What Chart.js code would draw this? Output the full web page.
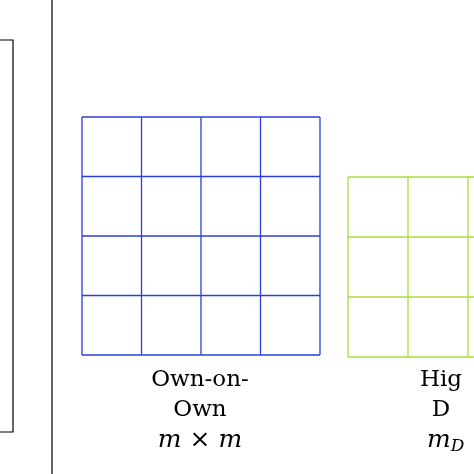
<!DOCTYPE html>
<html>
<head>
<meta charset="utf-8">
<script src="https://cdn.jsdelivr.net/npm/chart.js@4.4.0/dist/chart.umd.min.js"></script>
<style>
  html, body { margin: 0; padding: 0; background: #fff; }
  #wrap { width: 474px; height: 474px; }
</style>
</head>
<body>
<div id="wrap"><canvas id="diagram"></canvas></div>
<script>
"use strict";

// grids: left, top, cell size, columns, rows
var gridNames = ["Own-on-Own", "High-D"];
var gridLeft = [82, 348];
var gridTop = [117, 177];
var gridCell = [59.5, 60];
var gridCols = [4, 3];
var gridRows = [4, 3];
var gridColors = ["#2b3fd6", "#a8e03c"];

// caption lines under each grid
var captionX = [200, 441];
var captionLines = [["Own-on-", "Own", "m × m"], ["Hig", "D", "m_D"]];
var captionY = [380, 410, 440];

// left frame and divider
var frameBox = [-20, 40, 13, 432];
var dividerX = 52;

function gridSegments(i) {
    var pts = [];
    var x0 = gridLeft[i], y0 = gridTop[i], c = gridCell[i];
    var x1 = x0 + c * gridCols[i], y1 = y0 + c * gridRows[i];
    for (var k = 0; k <= gridCols[i]; k++) {
        pts.push({x: x0 + k * c, y: y0}, {x: x0 + k * c, y: y1}, {x: NaN, y: NaN});
    }
    for (var r = 0; r <= gridRows[i]; r++) {
        pts.push({x: x0, y: y0 + r * c}, {x: x1, y: y0 + r * c}, {x: NaN, y: NaN});
    }
    return pts;
}

var datasets = gridNames.map(function (name, i) {
    return {
        label: name,
        data: gridSegments(i),
        showLine: true,
        spanGaps: false,
        borderColor: gridColors[i],
        borderWidth: 1.3,
        pointRadius: 0
    };
});

datasets.push({
    label: "frame",
    data: [{x: frameBox[0], y: frameBox[1]}, {x: frameBox[2], y: frameBox[1]},
           {x: frameBox[2], y: frameBox[3]}, {x: frameBox[0], y: frameBox[3]}],
    showLine: true, borderColor: "#000", borderWidth: 1.2, pointRadius: 0
});
datasets.push({
    label: "divider",
    data: [{x: dividerX, y: 0}, {x: dividerX, y: 474}],
    showLine: true, borderColor: "#000", borderWidth: 1.2, pointRadius: 0
});

var captionPlugin = {
    id: "captions",
    afterDatasetsDraw: function (chart) {
        var ctx = chart.ctx, sx = chart.scales.x, sy = chart.scales.y;
        ctx.save();
        ctx.fillStyle = "#000";
        ctx.textAlign = "center";
        ctx.textBaseline = "middle";
        captionLines.forEach(function (lines, i) {
            lines.forEach(function (t, j) {
                var px = sx.getPixelForValue(captionX[i]);
                var py = sy.getPixelForValue(captionY[j]);
                if (j === 2) {
                    ctx.font = "italic 25px 'DejaVu Serif'";
                    if (t.indexOf("_") > 0) {
                        var parts = t.split("_");
                        ctx.textAlign = "left";
                        ctx.fillText(parts[0], px - 14, py);
                        var w = ctx.measureText(parts[0]).width;
                        ctx.font = "italic 17px 'DejaVu Serif'";
                        ctx.fillText(parts[1], px - 14 + w, py + 7);
                        ctx.textAlign = "center";
                    } else {
                        ctx.fillText(t, px, py);
                    }
                } else {
                    ctx.font = "23px 'DejaVu Serif'";
                    ctx.fillText(t, px, py);
                }
            });
        });
        ctx.restore();
    }
};

new Chart(document.getElementById("diagram"), {
    type: "scatter",
    data: {datasets: datasets},
    options: {
        responsive: true,
        maintainAspectRatio: false,
        animation: false,
        layout: {padding: 0},
        plugins: {legend: {display: false}, tooltip: {enabled: false}},
        scales: {
            x: {type: "linear", min: 0, max: 474, display: false},
            y: {type: "linear", min: 0, max: 474, reverse: true, display: false}
        }
    },
    plugins: [captionPlugin]
});
</script>
</body>
</html>
